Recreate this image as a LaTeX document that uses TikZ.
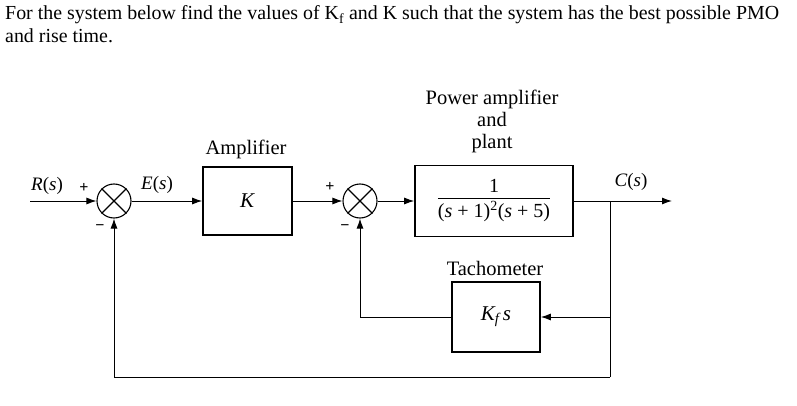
\documentclass[tikz,border=0pt]{standalone}
\usepackage{fontspec}
\setmainfont{Liberation Serif}
\usetikzlibrary{arrows.meta}
\begin{document}
\begin{tikzpicture}[x=1pt,y=-1pt,
  blk/.style={draw, line width=1.6pt, inner sep=0pt},
  sumj/.style={draw, circle, line width=1.1pt, minimum size=34pt, inner sep=0pt},
  sig/.style={line width=1pt, -{Latex[length=10pt,width=7pt]}},
  wire/.style={line width=1pt},
  lbl/.style={font=\fontsize{20.5}{22}\selectfont, inner sep=0pt},
  sym/.style={font=\fontsize{19}{21}\selectfont, inner sep=0pt},
  sgn/.style={font=\fontsize{16}{18}\selectfont\bfseries, inner sep=0pt},
  ttl/.style={font=\fontsize{19.9}{23}\selectfont, inner sep=0pt, anchor=base west},
  ]
\useasboundingbox (0,0) rectangle (797,406);
% title
\node[ttl] (t1) at (5,20) {For the system below find the values of K\textsubscript{f} and K such that the system has the best possible PMO};
\node[ttl] (t2) at (5,43) {and rise time.};
% blocks
\node[sumj] (s1) at (114,201) {};
\draw[line width=1.1pt] (s1.north east) -- (s1.south west) (s1.north west) -- (s1.south east);
\node[blk, minimum width=89pt, minimum height=68pt] (K) at (247.5,201) {\fontsize{21}{23}\selectfont\textit{K}};
\node[sumj] (s2) at (360,201) {};
\draw[line width=1.1pt] (s2.north east) -- (s2.south west) (s2.north west) -- (s2.south east);
\node[blk, minimum width=158pt, minimum height=71pt] (P) at (494,201) {\fontsize{20}{22}\selectfont
  \begin{tabular}{@{}c@{}}1\\[-1pt]\hline\rule{0pt}{19pt}(\textit{s} + 1)\textsuperscript{2}(\textit{s} + 5)\end{tabular}};
\node[blk, minimum width=88pt, minimum height=70pt] (T) at (496,317) {\fontsize{21}{23}\selectfont\textit{K\textsubscript{f}\,s}};
% coordinates
\coordinate (in) at (30,201);
\coordinate (out) at (672,201);
\coordinate (b) at (610,201);
\coordinate (bot) at (610,377);
% connectors
\draw[sig] (in) -- (s1.west);
\draw[sig] (s1.east) -- (K.west);
\draw[sig] (K.east) -- (s2.west);
\draw[sig] (s2.east) -- (P.west);
\draw[sig] (P.east) -- (out);
\draw[sig] (b) |- (T.east);
\draw[sig] (T.west) -| (s2.south);
\draw[wire] (b) -- (bot);
\draw[sig] (bot) -| (s1.south);
% labels
\node[sym] (lR) at (47,186) {\textit{R}(\textit{s})};
\node[sgn] (p1) at (84,188) {+};
\node[sgn] (m1) at (100,228) {\textminus};
\node[sym] (lE) at (157,185) {\textit{E}(\textit{s})};
\node[sgn] (p2) at (330,187) {+};
\node[sgn] (m2) at (345,228) {\textminus};
\node[sym] (lC) at (631,182) {\textit{C}(\textit{s})};
\node[lbl] (la) at (246,149) {Amplifier};
\node[lbl, align=center] (lp) at (492,121) {Power amplifier\\and\\plant};
\node[lbl] (lt) at (495,268) {Tachometer};
\end{tikzpicture}
\end{document}
